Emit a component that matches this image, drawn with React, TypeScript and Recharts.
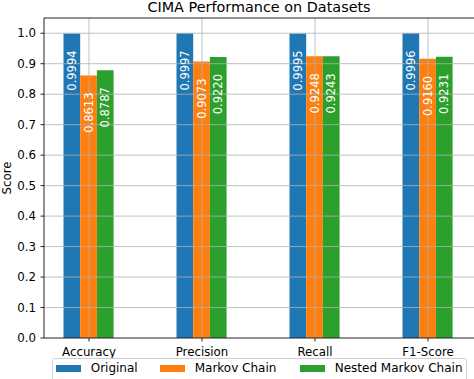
import React from 'react';
import { BarChart, Bar, XAxis, YAxis, LabelList, ReferenceLine } from 'recharts';

const categories = ['Accuracy', 'Precision', 'Recall', 'F1-Score'];
const originalValues = [0.9994, 0.9997, 0.9995, 0.9996];
const markovValues = [0.8613, 0.9073, 0.9248, 0.916];
const nestedValues = [0.8787, 0.922, 0.9243, 0.9231];
const seriesNames = ['Original', 'Markov Chain', 'Nested Markov Chain'];
const seriesKeys = ['original', 'markov', 'nested'];
const seriesColors = ['#1f77b4', '#ff7f0e', '#2ca02c'];
const yTicks = [0, 0.1, 0.2, 0.3, 0.4, 0.5, 0.6, 0.7, 0.8, 0.9, 1.0];
const title = 'CIMA Performance on Datasets';
const yLabel = 'Score';

const data = categories.map((c, i) => ({
  category: c,
  original: originalValues[i],
  markov: markovValues[i],
  nested: nestedValues[i],
}));

const FONT = 'DejaVu Sans';
const GRID = '#b0b0b0';

const renderValueLabel = (props: any) => {
  const x = Number(props.x);
  const y = Number(props.y);
  const w = Number(props.width);
  const cx = x + w / 2;
  const ty = y + 17;
  return (
    <text
      x={cx}
      y={ty}
      transform={`rotate(-90 ${cx} ${ty})`}
      textAnchor="end"
      dominantBaseline="central"
      fill="#ffffff"
      fontSize={11.5}
      fontFamily={FONT}
    >
      {Number(props.value).toFixed(4)}
    </text>
  );
};

const legendPositions = [
  { swatch: 56, text: 90.7 },
  { swatch: 160, text: 194.7 },
  { swatch: 300, text: 334.7 },
];

export default function App() {
  return (
    <div
      style={{
        position: 'absolute',
        left: 0,
        top: 0,
        width: 474,
        height: 379,
        overflow: 'hidden',
        background: '#ffffff',
        fontFamily: FONT,
      }}
    >
      <BarChart
        width={474}
        height={379}
        data={data}
        margin={{ top: 18, right: 0, bottom: 0, left: 0 }}
        barGap={0}
        barSize={16.7}
      >
        <XAxis
          dataKey="category"
          height={41}
          padding={{ left: -11.5, right: -10.5 }}
          tickSize={3.5}
          tickMargin={6}
          axisLine={{ stroke: '#222' }}
          tickLine={{ stroke: '#222' }}
          tick={{ fill: '#000', fontSize: 11.8, fontFamily: FONT }}
          interval={0}
        />
        <YAxis
          width={44}
          domain={[0, 1.05]}
          ticks={yTicks}
          allowDataOverflow
          tickFormatter={(v: number) => v.toFixed(1)}
          tickSize={3.5}
          tickMargin={4.5}
          axisLine={{ stroke: '#222' }}
          tickLine={{ stroke: '#222' }}
          tick={{ fill: '#000', fontSize: 11.8, fontFamily: FONT }}
          label={{
            content: (p: any) => {
              const vb = p.viewBox || {};
              const cy = Number(vb.y) + Number(vb.height) / 2;
              const cx = 7;
              return (
                <text
                  x={cx}
                  y={cy}
                  transform={`rotate(-90 ${cx} ${cy})`}
                  textAnchor="middle"
                  dominantBaseline="central"
                  fontSize={11.8}
                  fontFamily={FONT}
                  fill="#000"
                >
                  {yLabel}
                </text>
              );
            },
          }}
        />
        {seriesKeys.map((k, i) => (
          <Bar key={k} dataKey={k} name={seriesNames[i]} fill={seriesColors[i]} isAnimationActive={false}>
            <LabelList dataKey={k} content={renderValueLabel} />
          </Bar>
        ))}
        {yTicks.slice(1).map((t) => (
          <ReferenceLine key={`h${t}`} y={t} stroke={GRID} strokeOpacity={0.8} />
        ))}
        {categories.map((c) => (
          <ReferenceLine key={`v${c}`} x={c} stroke={GRID} strokeOpacity={0.8} />
        ))}
        <ReferenceLine y={1.05} stroke="#222" ifOverflow="visible" />
      </BarChart>
      <div
        style={{
          position: 'absolute',
          left: 44,
          width: 430,
          top: 0,
          textAlign: 'center',
          fontSize: 14.4,
          lineHeight: '14.4px',
          color: '#000',
        }}
      >
        {title}
      </div>
      <div
        style={{
          position: 'absolute',
          left: 52,
          top: 358,
          width: 415,
          height: 40,
          border: '1px solid #d0d0d0',
          borderRadius: 3,
          background: '#ffffff',
          boxSizing: 'border-box',
        }}
      />
      {seriesNames.map((n, i) => (
        <React.Fragment key={n}>
          <div
            style={{
              position: 'absolute',
              left: legendPositions[i].swatch,
              top: 365,
              width: 25,
              height: 7,
              background: seriesColors[i],
            }}
          />
          <div
            style={{
              position: 'absolute',
              left: legendPositions[i].text,
              top: 361.5,
              fontSize: 12,
              lineHeight: '12px',
              color: '#000',
              whiteSpace: 'nowrap',
            }}
          >
            {n}
          </div>
        </React.Fragment>
      ))}
    </div>
  );
}
